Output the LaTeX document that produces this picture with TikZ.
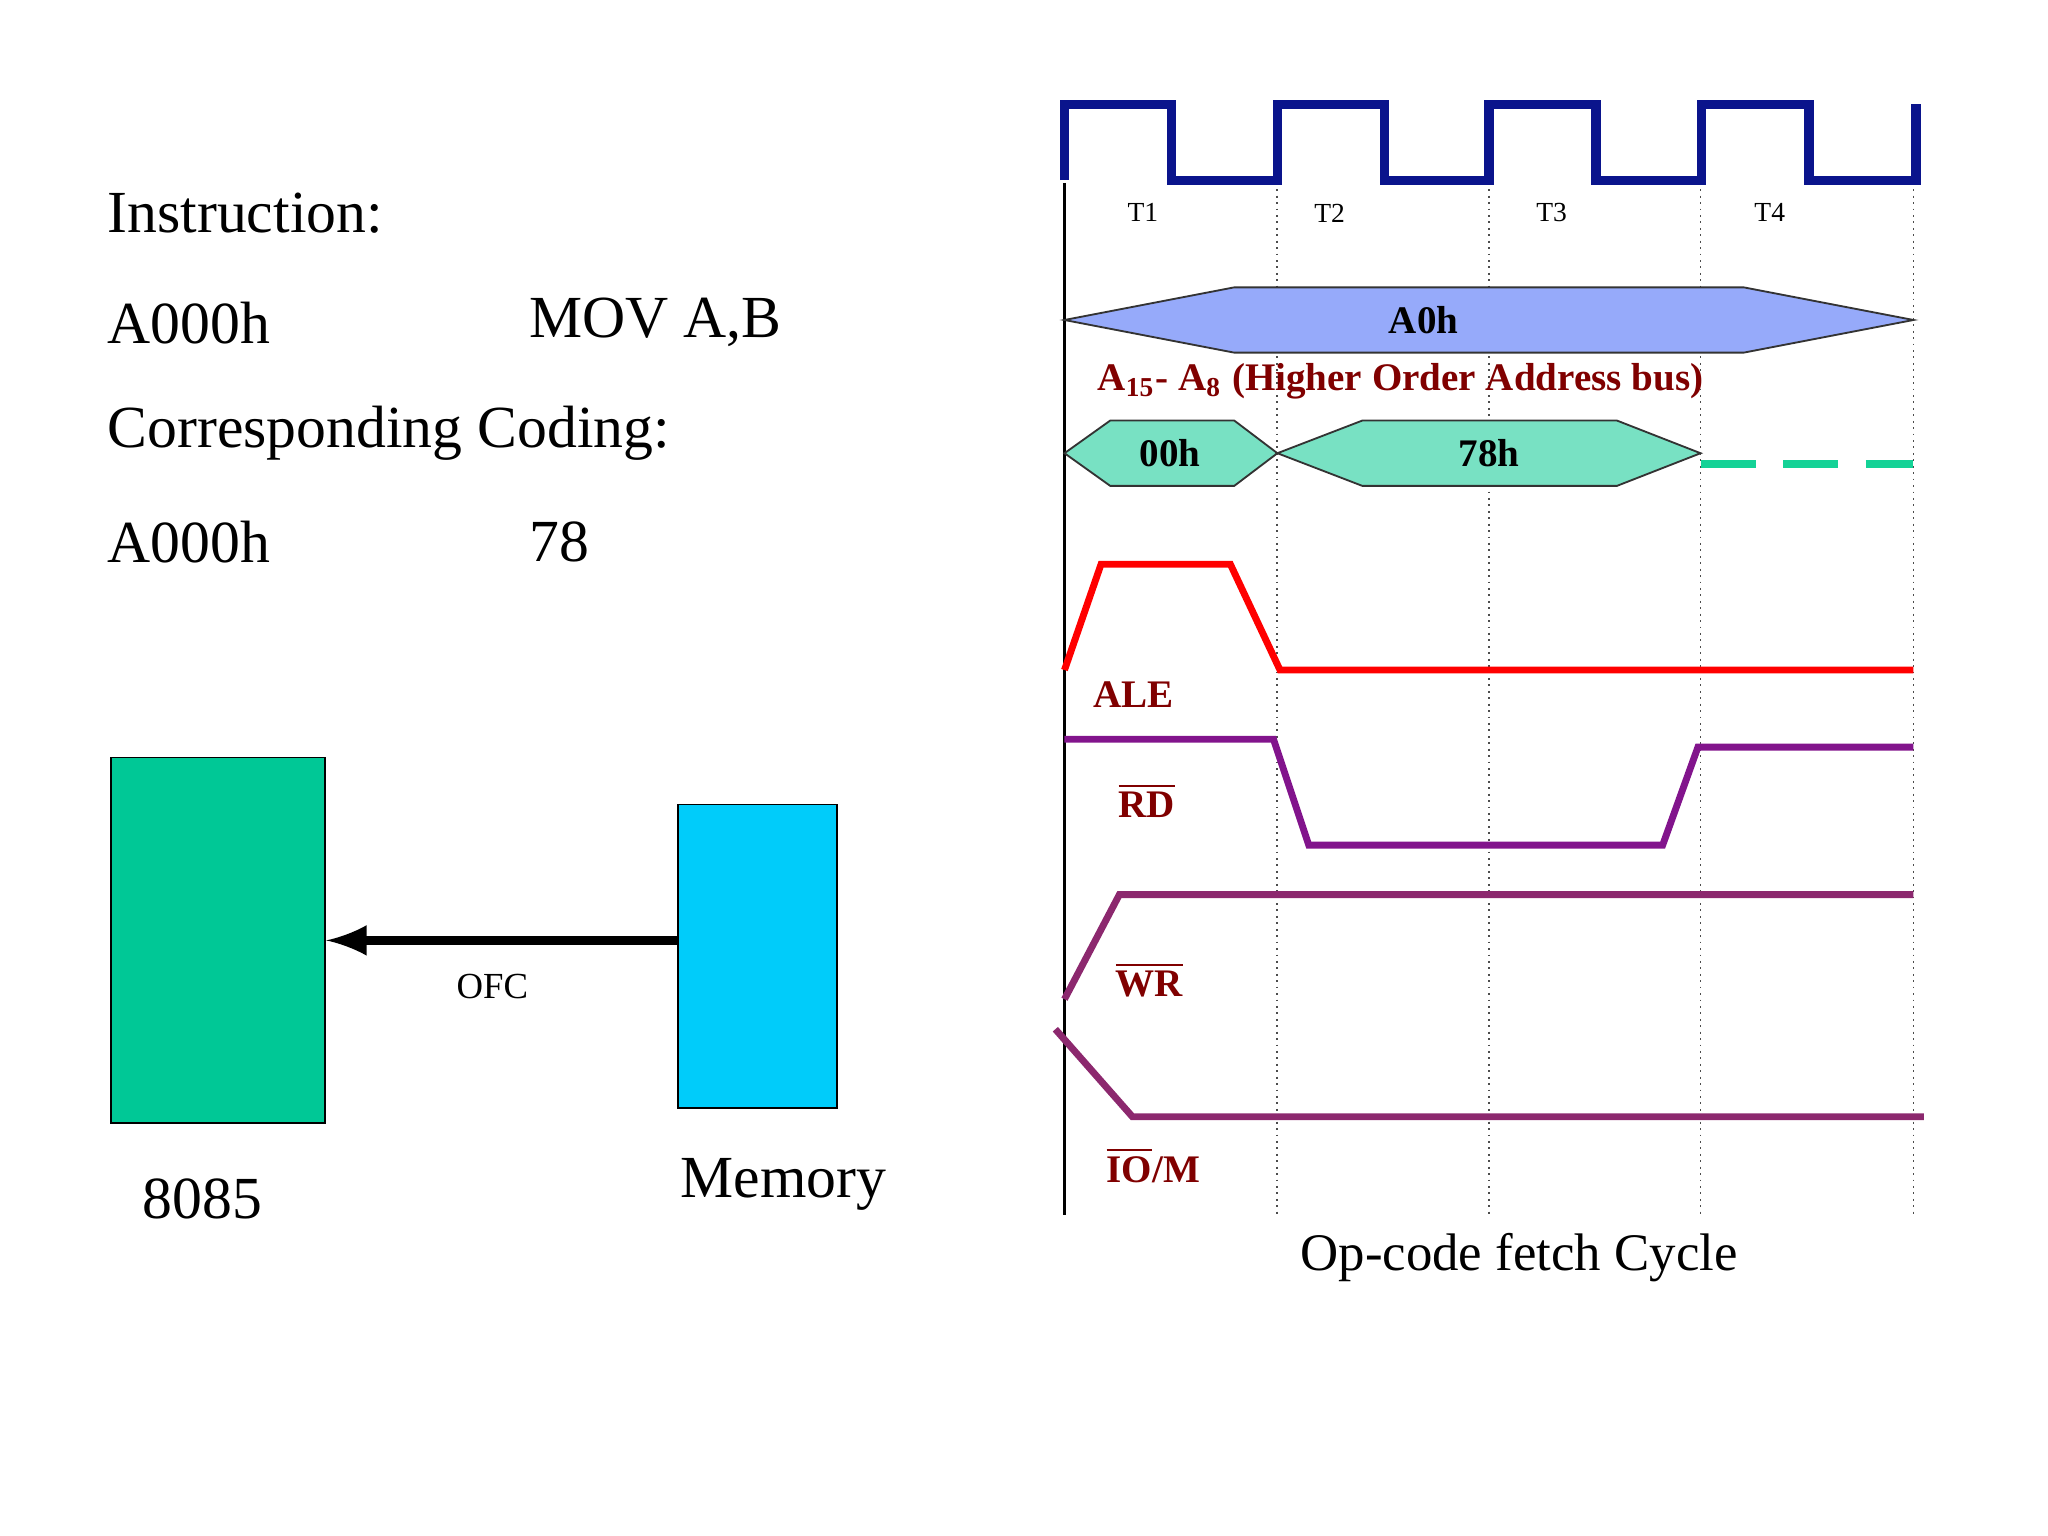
\documentclass[tikz,border=0pt]{standalone}
\usepackage{fontspec}
\setmainfont{Liberation Serif}
\begin{document}
\begin{tikzpicture}[x=0.01cm,y=-0.01cm,
 big/.style={font=\fontsize{13}{15}\selectfont,anchor=west},
 sig/.style={text=red!50!black,font=\fontsize{8.5}{10}\selectfont\bfseries},
 tl/.style={font=\fontsize{6}{7}\selectfont},
 grid/.style={densely dotted,black!70,line width=0.4pt}]
\useasboundingbox (0,0) rectangle (1568,1176);
% left text
\node[big] (i1) at (70,163) {Instruction:};
\node[big] (i2) at (70,247) {A000h};
\node[big] (i3) at (393,247) {MOV A,B};
\node[big] (i4) at (70,332) {Corresponding Coding:};
\node[big] (i5) at (70,415) {A000h};
\node[big] (i6) at (393,415) {78};
% blocks
\node[draw=black,fill={rgb,255:red,0;green,200;blue,150},minimum width=164*0.01cm,minimum height=280*0.01cm,inner sep=0] (cpu) at (167,720) {};
\node[draw=black,fill={rgb,255:red,0;green,204;blue,250},minimum width=122*0.01cm,minimum height=232*0.01cm,inner sep=0] (mem) at (580,732) {};
\coordinate (ms) at (mem.west |- 0,720);
\draw[-latex,line width=2pt] (ms) -- (cpu.east);
\node[font=\fontsize{8}{9}\selectfont] (ofc) at (377,755) {OFC};
\node[font=\fontsize{13}{15}\selectfont] (c8) at (155,918) {8085};
\node[font=\fontsize{13}{15}\selectfont] (cm) at (600,907) {Memory};
% grid
\draw[black,line width=0.6pt] (815,140) -- (815,930);
\foreach \x in {978,1140,1302,1465} \draw[grid] (\x,140) -- (\x,930);
% clock
\draw[line width=2pt,color={rgb,255:red,10;green,20;blue,140}] (815,138) -- (815,80) -- (897,80) -- (897,138) -- (978,138) -- (978,80) -- (1060,80) -- (1060,138) -- (1140,138) -- (1140,80) -- (1222,80) -- (1222,138) -- (1303,138) -- (1303,80) -- (1385,80) -- (1385,138) -- (1467,138) -- (1467,80);
\node[tl] (t1) at (875,163) {T1};
\node[tl] (t2) at (1018,163) {T2};
\node[tl] (t3) at (1188,163) {T3};
\node[tl] (t4) at (1355,163) {T4};
% address bus
\draw[fill={rgb,255:red,150;green,170;blue,250},draw=black!80] (815,245) -- (945,220) -- (1335,220) -- (1465,245) -- (1335,270) -- (945,270) -- cycle;
\node[font=\fontsize{8.5}{10}\selectfont\bfseries] (a0) at (1090,245) {A0h};
\node[sig,anchor=west] (ab) at (828,292) {A\textsubscript{15}- A\textsubscript{8} (Higher Order Address bus)};
\draw[fill={rgb,255:red,120;green,225;blue,195},draw=black!80] (815,347) -- (850,322) -- (945,322) -- (978,347) -- (945,372) -- (850,372) -- cycle;
\draw[fill={rgb,255:red,120;green,225;blue,195},draw=black!80] (978,347) -- (1043,322) -- (1238,322) -- (1302,347) -- (1238,372) -- (1043,372) -- cycle;
\node[font=\fontsize{8.5}{10}\selectfont\bfseries] (d0) at (896,347) {00h};
\node[font=\fontsize{8.5}{10}\selectfont\bfseries] (d1) at (1140,347) {78h};
\draw[dashed,dash pattern=on 12pt off 6pt,line width=1.8pt,color={rgb,255:red,20;green,210;blue,150}] (1302,355) -- (1465,355);
% ALE
\draw[red,line width=1.5pt] (815,513) -- (843,432) -- (942,432) -- (980,513) -- (1465,513);
\node[sig] (ale) at (868,532) {ALE};
\draw[line width=1.5pt,color={rgb,255:red,130;green,20;blue,140}] (815,566) -- (975,566) -- (1002,647) -- (1273,647) -- (1300,572) -- (1465,572);
\node[sig] (rd) at (878,613) {$\overline{\mbox{RD}}$};
\draw[line width=1.5pt,color={rgb,255:red,140;green,40;blue,110}] (815,765) -- (857,685) -- (1465,685);
\node[sig] (wr) at (880,750) {$\overline{\mbox{WR}}$};
\draw[line width=1.5pt,color={rgb,255:red,140;green,40;blue,110}] (808,788) -- (867,855) -- (1473,855);
\node[sig] (io) at (883,892) {$\overline{\mbox{IO}}$/M};
\node[font=\fontsize{11.5}{13}\selectfont] (cap) at (1163,963) {Op-code fetch Cycle};
\end{tikzpicture}
\end{document}
